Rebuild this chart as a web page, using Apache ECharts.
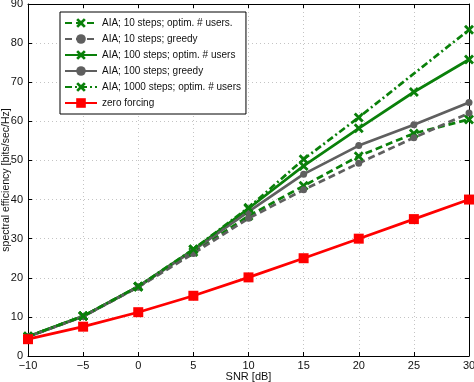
<!DOCTYPE html>
<html>
<head>
<meta charset="utf-8">
<script src="https://cdn.jsdelivr.net/npm/echarts@6/dist/echarts.min.js"></script>
<style>html,body{margin:0;padding:0;background:#fff}#c{width:474px;height:382px}</style>
</head>
<body>
<div id="c"></div>
<script>
var snr = [-10, -5, 0, 5, 10, 15, 20, 25, 30];
var aia10Opt = [5.0, 10.2, 17.7, 26.6, 35.8, 43.5, 51.1, 56.9, 60.5];
var aia10Greedy = [4.9, 10.1, 17.6, 26.2, 35.2, 42.5, 49.3, 55.8, 62.1];
var aia100Opt = [5.0, 10.2, 17.8, 27.2, 37.7, 48.6, 58.2, 67.5, 75.8];
var aia100Greedy = [4.9, 10.1, 17.7, 27.0, 36.9, 46.5, 53.8, 59.1, 64.8];
var aia1000Opt = [5.0, 10.2, 17.8, 27.3, 37.9, 50.3, 61.0, null, 83.4];
var zeroForcing = [4.3, 7.5, 11.2, 15.4, 20.1, 25.0, 30.0, 35.0, 40.0];
var names = ['AIA; 10 steps; optim. # users.', 'AIA; 10 steps; greedy', 'AIA; 100 steps; optim. # users', 'AIA; 100 steps; greedy', 'AIA; 1000 steps; optim. # users', 'zero forcing'];

function pairs(v) { return snr.map(function (x, i) { return [x, v[i]]; }); }
var GREEN = '#0a800a', GRAY = '#5f5f5f', RED = '#ff0000';
var XSYM = 'path://M2,0 L5,3 L8,0 L10,2 L7,5 L10,8 L8,10 L5,7 L2,10 L0,8 L3,5 L0,2 Z';
var FONT = 'Liberation Sans';

function mk(name, data, color, type, sym, size) {
  return {
    name: name, type: 'line', data: pairs(data), connectNulls: true,
    symbol: sym, symbolSize: size, showSymbol: true,
    lineStyle: { color: color, width: 2.7, type: type },
    itemStyle: { color: color, borderWidth: 0 },
    emphasis: { disabled: true }
  };
}

var chart = echarts.init(document.getElementById('c'));
function axisCommon() {
  return {
    axisLine: { show: true, onZero: false, lineStyle: { color: '#000', width: 1 } },
    axisTick: { show: true, inside: true, length: 4, lineStyle: { color: '#000' } }
  };
}
chart.setOption({
  animation: false,
  backgroundColor: '#fff',
  textStyle: { fontFamily: FONT },
  grid: { left: 28, right: 5, top: 4, bottom: 26, containLabel: false, outerBoundsMode: 'none' },
  legend: {
    orient: 'vertical', left: 60, top: 12,
    data: names,
    itemWidth: 32, itemHeight: 12, itemGap: 6, itemTextGap: 3,
    padding: [6, 5, 6, 4],
    borderColor: '#000', borderWidth: 1, backgroundColor: '#fff',
    textStyle: { fontFamily: FONT, fontSize: 10, color: '#111' }
  },
  xAxis: [Object.assign({
    type: 'value', min: -10, max: 30, interval: 5,
    name: 'SNR [dB]', nameLocation: 'middle', nameGap: 15, nameMoveOverlap: false,
    nameTextStyle: { fontFamily: FONT, fontSize: 11, color: '#111' },
    axisLabel: { fontFamily: FONT, fontSize: 11, color: '#111', margin: 4,
      formatter: function (v) { return String(v).replace('-', '\u2212'); } },
    splitLine: { show: true, lineStyle: { color: '#c4c4c4', type: [1, 3], width: 1 } }
  }, axisCommon()), Object.assign({
    type: 'value', min: -10, max: 30, interval: 5, position: 'top',
    axisLabel: { show: false }, splitLine: { show: false }
  }, axisCommon())],
  yAxis: [Object.assign({
    type: 'value', min: 0, max: 90, interval: 10,
    name: 'spectral efficiency [bits/sec/Hz]', nameLocation: 'middle', nameGap: 16, nameMoveOverlap: false,
    nameTextStyle: { fontFamily: FONT, fontSize: 10.5, color: '#111' },
    axisLabel: { fontFamily: FONT, fontSize: 11, color: '#111', margin: 5 },
    splitLine: { show: true, lineStyle: { color: '#c4c4c4', type: [1, 3], width: 1 } }
  }, axisCommon()), Object.assign({
    type: 'value', min: 0, max: 90, interval: 10, position: 'right',
    axisLabel: { show: false }, splitLine: { show: false }
  }, axisCommon())],
  series: [
    mk(names[0], aia10Opt, GREEN, [7, 4], XSYM, 10),
    mk(names[1], aia10Greedy, GRAY, [7, 4], 'circle', 7),
    mk(names[2], aia100Opt, GREEN, 'solid', XSYM, 10),
    mk(names[3], aia100Greedy, GRAY, 'solid', 'circle', 7),
    mk(names[4], aia1000Opt, GREEN, [7, 3, 2, 3], XSYM, 10),
    mk(names[5], zeroForcing, RED, 'solid', 'rect', 10)
  ]
});
</script>
</body>
</html>
